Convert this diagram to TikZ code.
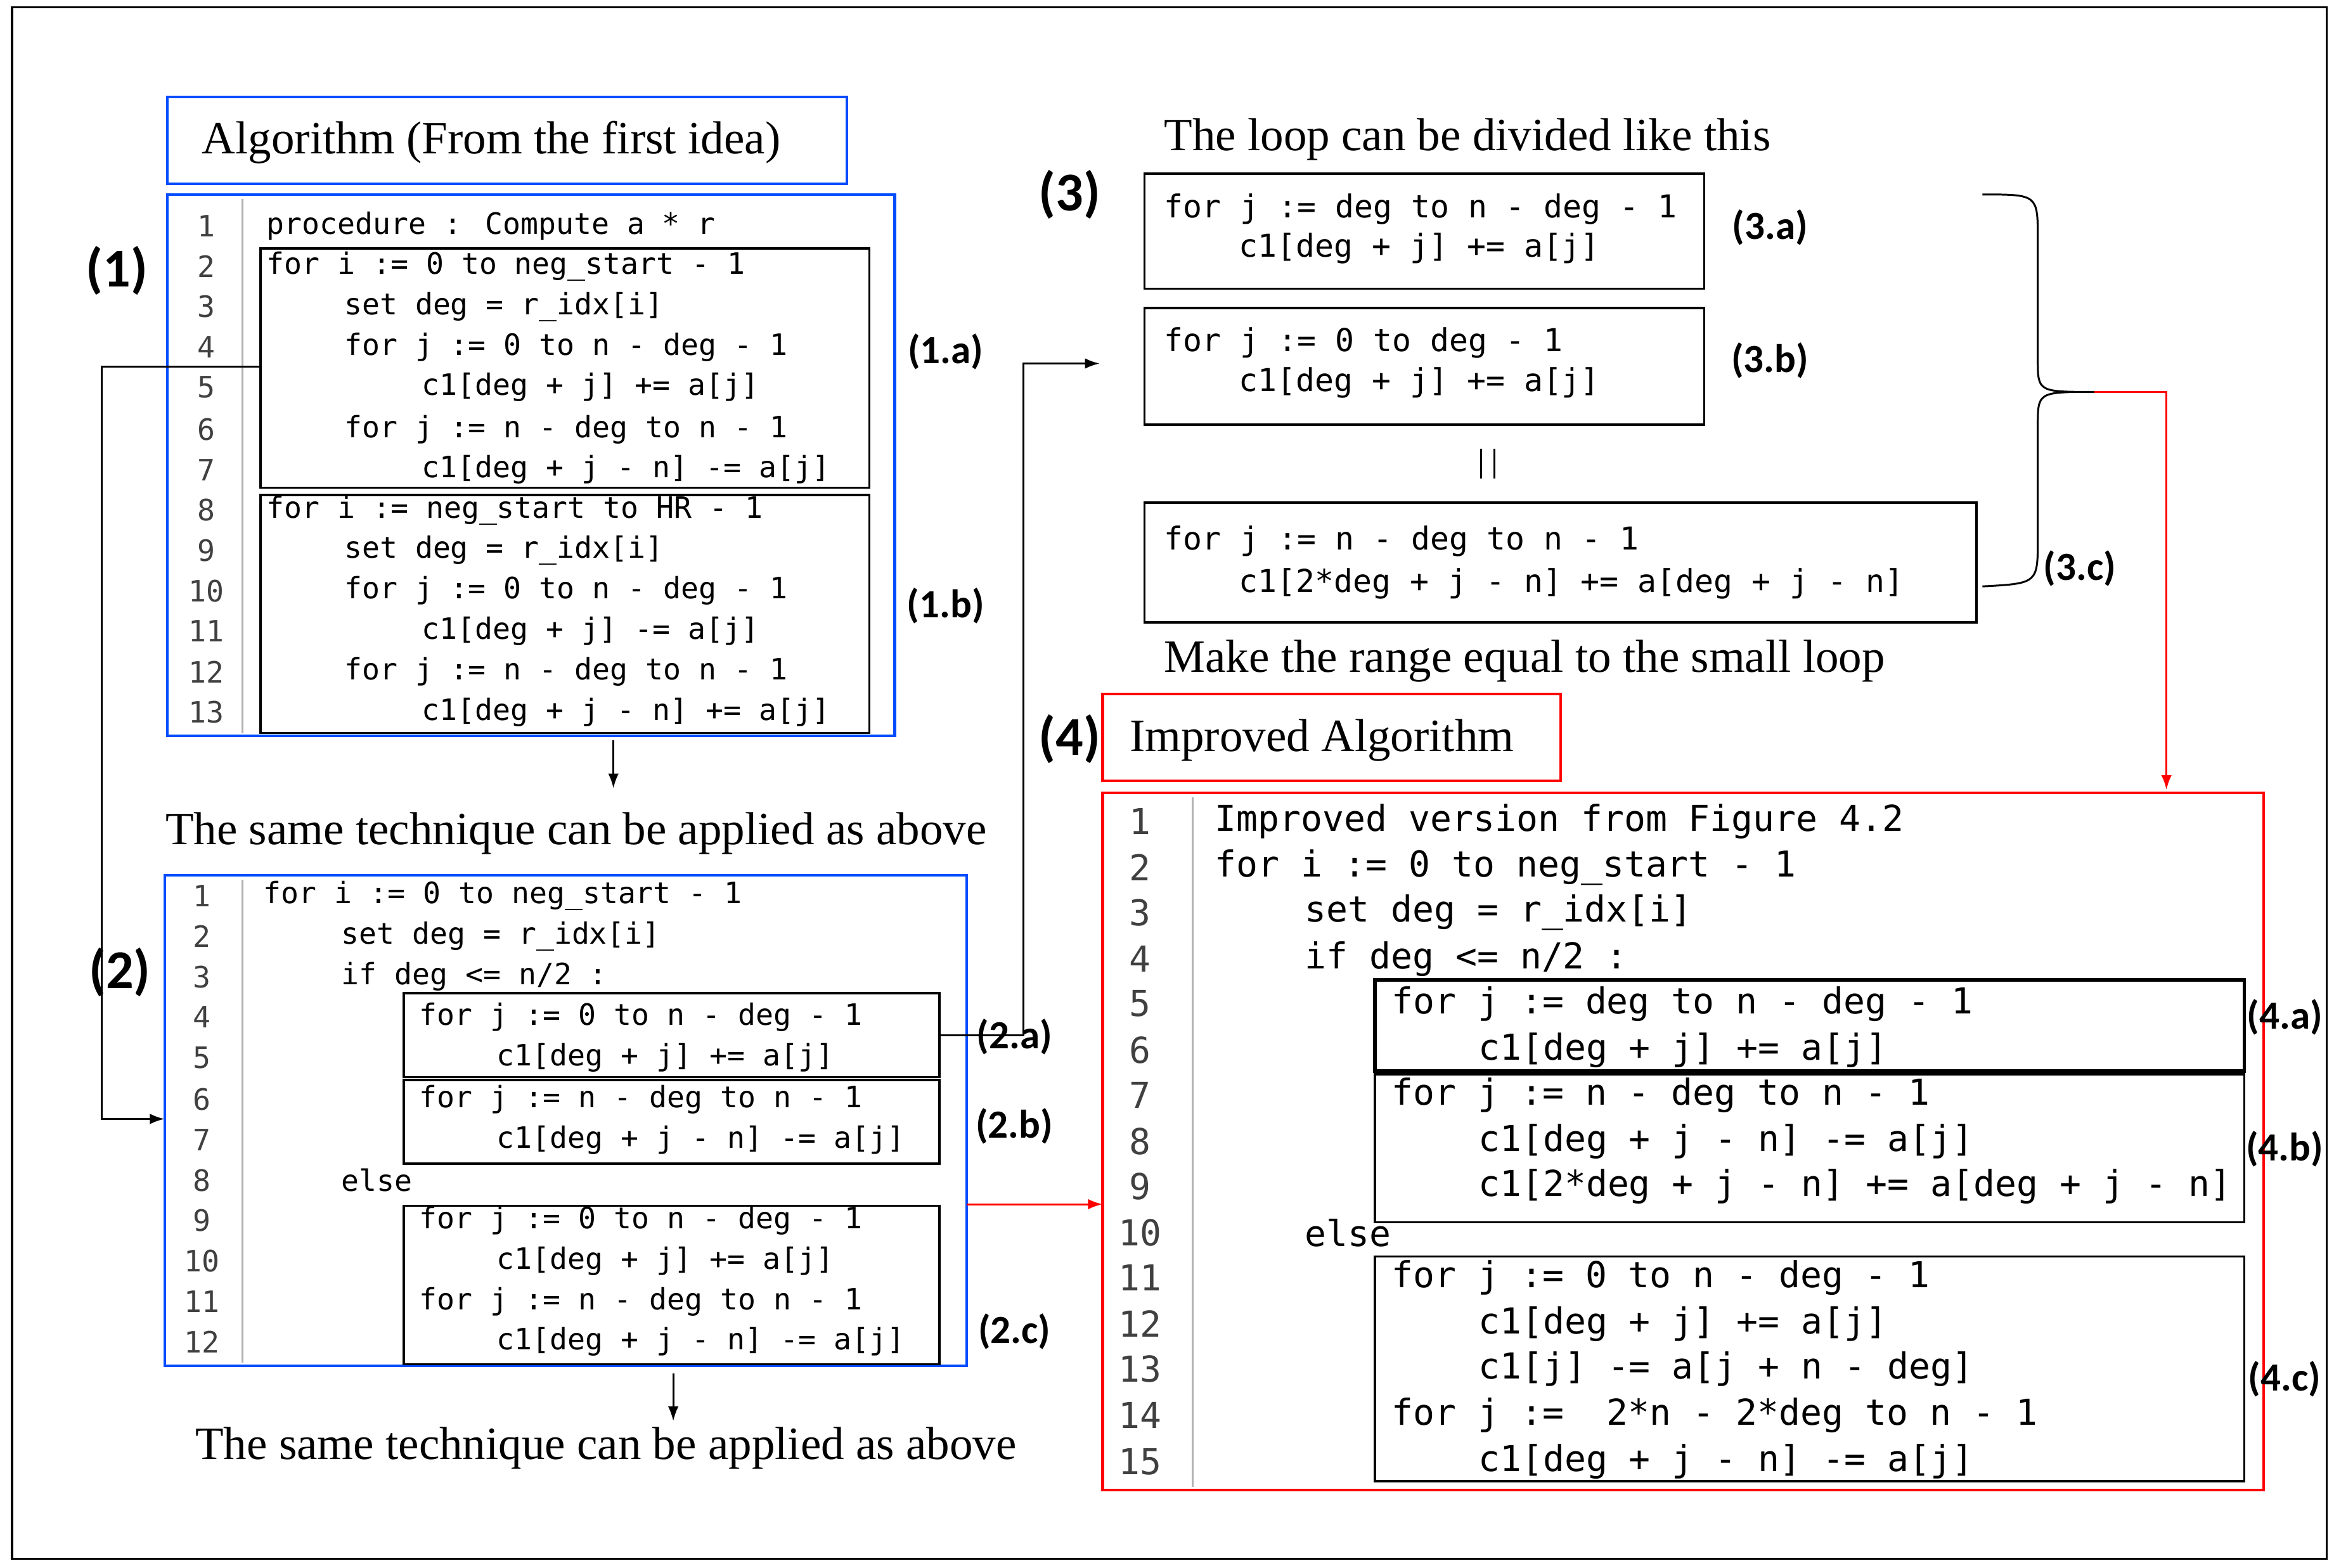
\documentclass[tikz,border=0pt]{standalone}
\usetikzlibrary{arrows.meta}
\usepackage{fontspec}
\setmainfont{Liberation Serif}
\newfontfamily\cdf{DejaVu Sans Mono}
\newfontfamily\lbf{Carlito}
\begin{document}
\begin{tikzpicture}[x=0.05cm,y=-0.05cm,
 cA/.style={anchor=west,inner sep=0,font=\cdf\fontsize{28}{30}\selectfont},
 cB/.style={anchor=west,inner sep=0,font=\cdf\fontsize{30}{32}\selectfont},
 cC/.style={anchor=west,inner sep=0,font=\cdf\fontsize{34}{36}\selectfont},
 nA/.style={cA,anchor=center,text=black!75},
 nC/.style={cC,anchor=center,text=black!75},
 sf/.style={anchor=west,inner sep=0,font=\fontsize{44}{46}\selectfont},
 lb/.style={inner sep=0,font=\lbf\bfseries\fontsize{38}{40}\selectfont},
 big/.style={inner sep=0,font=\lbf\bfseries\fontsize{52}{54}\selectfont},
 bl/.style={draw=blue!70!cyan,line width=2.5pt},
 rd/.style={draw=red,line width=2.5pt},
 bk/.style={draw=black,line width=2.2pt},
 ln/.style={line width=1.8pt},
 ar/.style={ln,-{Latex[length=14pt,width=10pt]}}]
\useasboundingbox (0,0) rectangle (1560,1048);
\draw[line width=2pt] (8,5) rectangle (1555,1042);
% ---------- Box 1
\draw[bl] (112,65) rectangle (566,123);
\node[sf] (t1t) at (135,95) {Algorithm (From the first idea)};
\draw[bl] (112,130) rectangle (598,492);
\draw[ln,black!30] (162,133) -- (162,490);
\foreach \n/\y in {1/151,2/178,3/205,4/232,5/259,6/287,7/314,8/341,9/368,10/395,11/422,12/449,13/476}
  \node[nA] (a\n) at (138,\y) {\n};
\node[cA] (a1c) at (178,151) {procedure : Compute a * r};
\node[cA] (a2c) at (178,178) {for i := 0 to neg\_start - 1};
\node[cA] (a3c) at (230,205) {set deg = r\_idx[i]};
\node[cA] (a4c) at (230,232) {for j := 0 to n - deg - 1};
\node[cA] (a5c) at (282,259) {c1[deg + j] += a[j]};
\node[cA] (a6c) at (230,287) {for j := n - deg to n - 1};
\node[cA] (a7c) at (282,314) {c1[deg + j - n] -= a[j]};
\node[cA] (a8c) at (178,341) {for i := neg\_start to HR - 1};
\node[cA] (a9c) at (230,368) {set deg = r\_idx[i]};
\node[cA] (a10c) at (230,395) {for j := 0 to n - deg - 1};
\node[cA] (a11c) at (282,422) {c1[deg + j] -= a[j]};
\node[cA] (a12c) at (230,449) {for j := n - deg to n - 1};
\node[cA] (a13c) at (282,476) {c1[deg + j - n] += a[j]};
\draw[bk] (174,166) rectangle (581,326);
\draw[bk] (174,331) rectangle (581,490);
\coordinate (b1a) at (174,245);
\node[big] (L1) at (78,181) {(1)};
\node[lb] (L1a) at (632,235) {(1.a)};
\node[lb] (L1b) at (632,405) {(1.b)};
\coordinate (d1s) at (410,495); \coordinate (d1e) at (410,527);
\draw[ar] (d1s) -- (d1e);
\node[sf,anchor=center] (s1) at (385,557) {The same technique can be applied as above};
% ---------- Box 2
\draw[bl] (110,585) rectangle (646,913);
\draw[ln,black!30] (162,588) -- (162,911);
\foreach \n/\y in {1/599,2/626,3/653,4/680,5/707,6/735,7/762,8/789,9/816,10/843,11/870,12/897}
  \node[nA] (b\n) at (135,\y) {\n};
\node[cA] (b1c) at (176,599) {for i := 0 to neg\_start - 1};
\node[cA] (b2c) at (228,626) {set deg = r\_idx[i]};
\node[cA] (b3c) at (228,653) {if deg <= n/2 :};
\node[cA] (b4c) at (280,680) {for j := 0 to n - deg - 1};
\node[cA] (b5c) at (332,707) {c1[deg + j] += a[j]};
\node[cA] (b6c) at (280,735) {for j := n - deg to n - 1};
\node[cA] (b7c) at (332,762) {c1[deg + j - n] -= a[j]};
\node[cA] (b8c) at (228,789) {else};
\node[cA] (b9c) at (280,816) {for j := 0 to n - deg - 1};
\node[cA] (b10c) at (332,843) {c1[deg + j] += a[j]};
\node[cA] (b11c) at (280,870) {for j := n - deg to n - 1};
\node[cA] (b12c) at (332,897) {c1[deg + j - n] -= a[j]};
\draw[bk] (270,664) rectangle (628,720);
\draw[bk] (270,722) rectangle (628,778);
\draw[bk] (270,806) rectangle (628,912);
\node[big] (L2) at (80,650) {(2)};
\node[lb] (L2a) at (678,693) {(2.a)};
\node[lb] (L2b) at (678,753) {(2.b)};
\node[lb] (L2c) at (678,890) {(2.c)};
\coordinate (d2s) at (450,918); \coordinate (d2e) at (450,950);
\draw[ar] (d2s) -- (d2e);
\node[sf,anchor=center] (s2) at (405,968) {The same technique can be applied as above};
\coordinate (b2in) at (110,748);
\draw[ar] (b1a) -- (68,245) |- (b2in);
% ---------- Box 3
\node[big] (L3) at (715,130) {(3)};
\node[sf] (s3) at (778,93) {The loop can be divided like this};
\draw[bk] (765,116) rectangle (1139,193);
\node[cB] (c1a) at (778,140) {for j := deg to n - deg - 1};
\node[cB] (c1b) at (828,166) {c1[deg + j] += a[j]};
\node[lb] (L3a) at (1183,152) {(3.a)};
\draw[bk] (765,206) rectangle (1139,284);
\node[cB] (c2a) at (778,229) {for j := 0 to deg - 1};
\node[cB] (c2b) at (828,256) {c1[deg + j] += a[j]};
\node[lb] (L3b) at (1183,241) {(3.b)};
\draw[ln] (990,300) -- (990,320) (999,300) -- (999,320);
\draw[bk] (765,336) rectangle (1321,416);
\node[cB] (c3a) at (778,362) {for j := n - deg to n - 1};
\node[cB] (c3b) at (828,390) {c1[2*deg + j - n] += a[deg + j - n]};
\node[lb] (L3c) at (1390,380) {(3.c)};
\node[sf] (s4) at (778,442) {Make the range equal to the small loop};
\coordinate (br) at (1400,262);
\draw[ln] (1325,130) .. controls (1362,130) .. (1362,160) -- (1362,240) .. controls (1362,262) .. (br)
  .. controls (1362,262) .. (1362,285) -- (1362,360) .. controls (1362,390) .. (1325,392);
% ---------- Box 4
\node[big] (L4) at (715,494) {(4)};
\draw[rd] (737,464) rectangle (1043,522);
\node[sf] (t4) at (755,495) {Improved Algorithm};
\draw[rd] (737,530) rectangle (1513,996);
\draw[ln,black!30] (797,533) -- (797,994);
\foreach \n/\y in {1/549,2/580,3/610,4/641,5/671,6/702,7/732,8/763,9/793,10/824,11/854,12/885,13/915,14/946,15/977}
  \node[nC] (d\n) at (762,\y) {\n};
\node[cC] (d1c) at (812,549) {Improved version from Figure 4.2};
\node[cC] (d2c) at (812,580) {for i := 0 to neg\_start - 1};
\node[cC] (d3c) at (872,610) {set deg = r\_idx[i]};
\node[cC] (d4c) at (872,641) {if deg <= n/2 :};
\node[cC] (d5c) at (930,671) {for j := deg to n - deg - 1};
\node[cC] (d6c) at (988,702) {c1[deg + j] += a[j]};
\node[cC] (d7c) at (930,732) {for j := n - deg to n - 1};
\node[cC] (d8c) at (988,763) {c1[deg + j - n] -= a[j]};
\node[cC] (d9c) at (988,793) {c1[2*deg + j - n] += a[deg + j - n]};
\node[cC] (d10c) at (872,824) {else};
\node[cC] (d11c) at (930,854) {for j := 0 to n - deg - 1};
\node[cC] (d12c) at (988,885) {c1[deg + j] += a[j]};
\node[cC] (d13c) at (988,915) {c1[j] -= a[j + n - deg]};
\node[cC] (d14c) at (930,946) {for j :=\ \ 2*n - 2*deg to n - 1};
\node[cC] (d15c) at (988,977) {c1[deg + j - n] -= a[j]};
\draw[bk,line width=3.5pt] (919,655) rectangle (1500,716);
\draw[bk] (919,718) rectangle (1500,817);
\draw[bk] (919,840) rectangle (1500,990);
\node[lb] (L4a) at (1527,680) {(4.a)};
\node[lb] (L4b) at (1527,768) {(4.b)};
\node[lb] (L4c) at (1527,922) {(4.c)};
% connectors
\coordinate (c3in) at (735,243);
\draw[ar] (628,692) -- (684,692) |- (c3in);
\coordinate (b2out) at (646,805); \coordinate (b4in) at (737,805);
\draw[ar,red] (b2out) -- (b4in);
\coordinate (b4top) at (1448,528);
\draw[ar,red] (br) -| (b4top);
\end{tikzpicture}
\end{document}
